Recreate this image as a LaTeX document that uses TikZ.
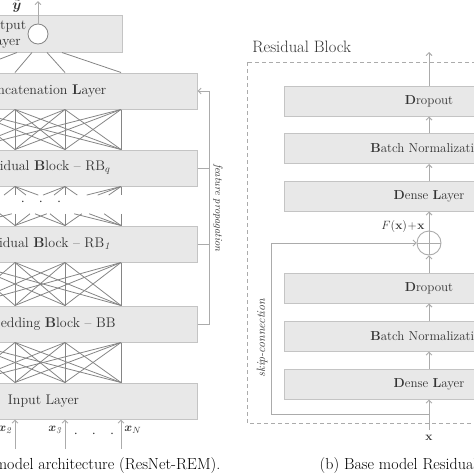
\documentclass[tikz,border=0pt]{standalone}
\usepackage{amsmath, amssymb}
\usepackage{bm}
\usepackage{xcolor}
\usetikzlibrary{arrows.meta, calc}

\definecolor{boxfill}{HTML}{E8E8E8}
\definecolor{boxline}{HTML}{C4C4C4}
\definecolor{meshgray}{HTML}{858585}
\definecolor{arrgray}{HTML}{ABABAB}
\definecolor{txtgray}{HTML}{333333}

\begin{document}
\begin{tikzpicture}[x=1pt, y=-1pt, line width=0.8pt,
    layer/.style={rectangle, draw=boxline, fill=boxfill, line width=1pt, minimum width=307pt, minimum height=36pt, text=txtgray, font=\fontsize{14}{16}\selectfont},
    rblayer/.style={rectangle, draw=boxline, fill=boxfill, line width=1pt, minimum width=290pt, minimum height=30pt, text=txtgray, font=\fontsize{13}{15}\selectfont},
    mesh/.style={draw=meshgray, line width=0.8pt},
    arr/.style={draw=arrgray, line width=0.9pt, -{Straight Barb[length=3pt,width=6pt]}},
    lbl/.style={text=txtgray, inner sep=1pt}]

    \useasboundingbox (0,0) rectangle (474,474);
    \clip (0,0) rectangle (474,474);

    % (a) base model
    \node[layer, minimum width=162pt, minimum height=37pt] at (41,33.5) (out) {};
    \node[lbl, align=center, font=\fontsize{14}{16}\selectfont] at (4,34) (outtxt) {Output\\Layer};
    \node[circle, draw=meshgray, fill=white, minimum size=20pt, inner sep=0pt] at (38,34) (outc) {};
    \node[lbl, font=\fontsize{14}{16}\selectfont] at (17,6) (yhat) {$\tilde{\bm{y}}$};

    \node[layer] at (43.5,91)  (cat) {Concatenation \textbf{L}ayer};
    \node[layer] at (43.5,168) (rbq) {\textbf{R}esidual \textbf{B}lock -- RB$_{q}$};
    \node[layer] at (43.5,244) (rb1) {\textbf{R}esidual \textbf{B}lock -- RB$_{\mathit{1}}$};
    \node[layer] at (43.5,324) (bb)  {\textbf{E}mbedding \textbf{B}lock -- BB};
    \node[layer] at (43.5,401) (inp) {Input Layer};

    \coordinate (k1) at (-35,0);
    \coordinate (k2) at (15,0);
    \coordinate (k3) at (65,0);
    \coordinate (k4) at (121,0);
    \coordinate (o1) at (17,0);
    \coordinate (o2) at (32,0);
    \coordinate (o3) at (47,0);
    \coordinate (o4) at (62,0);

    \foreach \i in {1,...,4}
        \draw[mesh] (out.south -| o\i) -- (cat.north -| k\i);

    \foreach \a in {1,...,4}{
        \foreach \b in {1,...,4}{
            \draw[mesh] (cat.south -| k\a) -- (rbq.north -| k\b);
            \draw[mesh] (rb1.south -| k\a) -- (bb.north -| k\b);
            \draw[mesh] (bb.south -| k\a) -- (inp.north -| k\b);
            \draw[mesh] (rbq.south -| k\a) -- ($(rbq.south -| k\a)!0.22!(rb1.north -| k\b)$);
            \draw[mesh] ($(rbq.south -| k\a)!0.7!(rb1.north -| k\b)$) -- (rb1.north -| k\b);
        }
    }
    \node[lbl, font=\fontsize{14}{16}\selectfont] at (41,202) (rbdots) {$\cdot\hspace{11pt}\cdot\hspace{11pt}\cdot$};

    \coordinate (ytop) at (38,1);
    \draw[arr] (outc) -- (ytop);

    \foreach \i in {2,3,4}{
        \coordinate (in\i) at ($(k\i)+(0,449)$);
        \draw[arr] (in\i) -- (inp.south -| in\i);
    }
    \node[lbl, anchor=east, font=\fontsize{13}{15}\selectfont] at (14,430) (x2) {$\bm{x}_{\mathit{2}}$};
    \node[lbl, anchor=east, font=\fontsize{13}{15}\selectfont] at (64,430) (x3) {$\bm{x}_{\mathit{3}}$};
    \node[lbl, anchor=west, font=\fontsize{13}{15}\selectfont] at (123,430) (xn) {$\bm{x}_{N}$};
    \node[lbl, font=\fontsize{14}{16}\selectfont] at (94,434) (indots) {$\cdot\hspace{11pt}\cdot\hspace{11pt}\cdot$};

    % feature propagation
    \coordinate (fpx) at (209,0);
    \draw[arr] (bb.east) -- (bb.east -| fpx) |- (cat.east);
    \draw[draw=arrgray, line width=0.9pt] (rbq.east) -- (rbq.east -| fpx);
    \draw[draw=arrgray, line width=0.9pt] (rb1.east) -- (rb1.east -| fpx);
    \node[lbl, rotate=-90, font=\fontsize{10.5}{12}\itshape] at (218,208) (fplbl) {feature propagation};

    \node[anchor=east, text=black, font=\fontsize{16}{18}\selectfont] at (224,466) (capa) {(a) Base model architecture (ResNet-REM).};

    % (b) residual block
    \node[anchor=west, lbl, font=\fontsize{16.5}{18}\selectfont] at (251,47) (rbtitle) {Residual Block};
    \draw[draw=arrgray, line width=0.9pt, dash pattern=on 4pt off 3pt] (247,62) rectangle (620,423);

    \node[rblayer] at (429,101) (drop1)  {\textbf{D}ropout};
    \node[rblayer] at (429,148.5) (bn1)  {\textbf{B}atch Normalization};
    \node[rblayer] at (429,196) (dense1) {\textbf{D}ense \textbf{L}ayer};
    \node[circle, draw=arrgray, line width=0.9pt, minimum size=24pt, inner sep=0pt] at (429,243) (plus) {};
    \draw[draw=arrgray, line width=0.9pt] (plus.north) -- (plus.south) (plus.west) -- (plus.east);
    \node[rblayer] at (429,288) (drop2)  {\textbf{D}ropout};
    \node[rblayer] at (429,336) (bn2)    {\textbf{B}atch Normalization};
    \node[rblayer] at (429,384) (dense2) {\textbf{D}ense \textbf{L}ayer};

    \coordinate (xin) at (429,430);
    \coordinate (rbout) at (429,52);
    \coordinate (sk) at (429,414);
    \coordinate (skb) at (271,414);
    \node[lbl, font=\fontsize{13}{15}\selectfont] at (429,438) (xlbl) {$\mathbf{x}$};
    \node[lbl, font=\fontsize{13}{15}\selectfont] at (403,226) (fxlbl) {$F(\mathbf{x})\!+\!\mathbf{x}$};

    \draw[arr] (xin) -- (dense2);
    \draw[arr] (dense2) -- (bn2);
    \draw[arr] (bn2) -- (drop2);
    \draw[arr] (drop2) -- (plus);
    \draw[arr] (plus) -- (dense1);
    \draw[arr] (dense1) -- (bn1);
    \draw[arr] (bn1) -- (drop1);
    \draw[arr] (drop1) -- (rbout);
    \draw[arr] (sk) -- (skb) |- (plus.west);
    \node[lbl, rotate=90, font=\fontsize{12}{14}\itshape] at (262,338) (sklbl) {skip-connection};

    \node[anchor=west, text=black, font=\fontsize{16}{18}\selectfont] at (316,466) (capb) {(b) Base model Residual Block.};
\end{tikzpicture}
\end{document}
